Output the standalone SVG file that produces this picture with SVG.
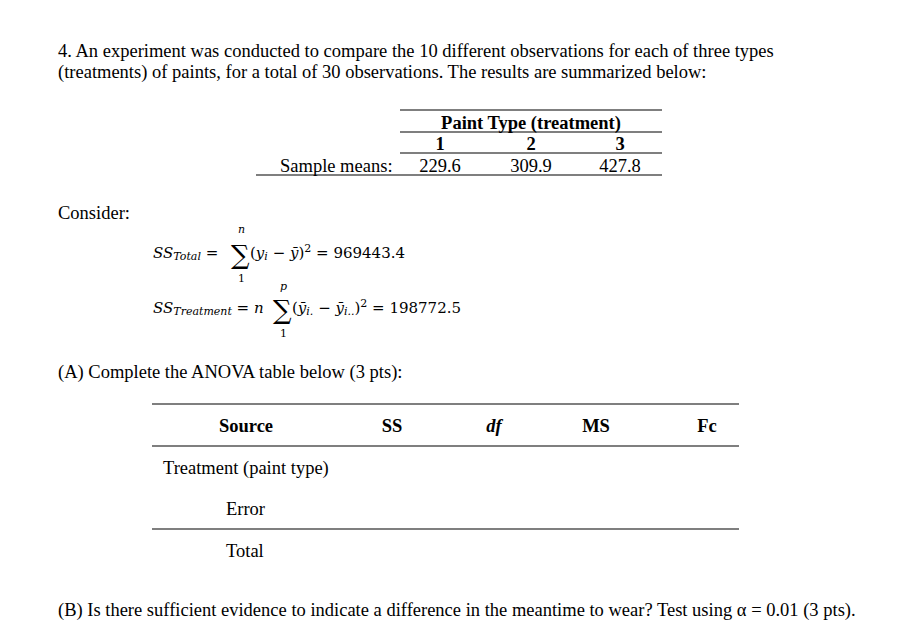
<svg xmlns="http://www.w3.org/2000/svg" width="902" height="627" viewBox="0 0 902 627">
<style>
text{font-family:"Liberation Serif",serif;font-size:18.5px;fill:#000}
.b{font-weight:bold}
.m{font-family:"DejaVu Serif","Liberation Serif",serif;font-size:15px}
.i{font-style:italic}
.s{font-size:11px}
.sig{font-size:26px}
line{stroke:#000;stroke-width:1.2}
</style>
<rect width="902" height="627" fill="#fff"/>
<text x="58" y="57">4.  An experiment was conducted to compare the 10 different observations for each of three types</text>
<text x="58" y="78">(treatments) of paints, for a total of 30 observations. The results are summarized below:</text>
<g id="means-table">
<line x1="400" y1="110" x2="662" y2="110"/>
<text x="531" y="129" class="b" text-anchor="middle">Paint Type (treatment)</text>
<line x1="400" y1="132" x2="662" y2="132"/>
<text x="440" y="150" class="b" text-anchor="middle">1</text>
<text x="531" y="150" class="b" text-anchor="middle">2</text>
<text x="620" y="150" class="b" text-anchor="middle">3</text>
<line x1="400" y1="153" x2="662" y2="153"/>
<text x="280" y="172">Sample means:</text>
<text x="440" y="172" text-anchor="middle">229.6</text>
<text x="531" y="172" text-anchor="middle">309.9</text>
<text x="620" y="172" text-anchor="middle">427.8</text>
<line x1="256" y1="175" x2="662" y2="175"/>
</g>
<text x="58" y="219">Consider:</text>
<g id="formulas">
<text x="153" y="258" class="m i">SS<tspan class="s" dy="2">Total</tspan><tspan dy="-2" font-style="normal"> =</tspan></text>
<text x="238" y="233" class="m i s">n</text>
<text x="231" y="264" class="m sig">∑</text>
<text x="238" y="282" class="m s">1</text>
<text x="250" y="258" class="m">(<tspan class="i">y</tspan><tspan class="s i" dy="2">i</tspan><tspan dy="-2"> − </tspan><tspan class="i">ȳ</tspan>)<tspan class="s" dy="-6">2</tspan><tspan dy="6"> = 969443.4</tspan></text>
<text x="153" y="313" class="m i">SS<tspan class="s" dy="2">Treatment</tspan><tspan dy="-2" font-style="normal"> = </tspan>n</text>
<text x="280" y="290" class="m i s">p</text>
<text x="273" y="319" class="m sig">∑</text>
<text x="280" y="337" class="m s">1</text>
<text x="292" y="313" class="m">(<tspan class="i">ȳ</tspan><tspan class="s i" dy="2">i.</tspan><tspan dy="-2"> − </tspan><tspan class="i">ȳ</tspan><tspan class="s i" dy="2">i..</tspan><tspan dy="-2">)</tspan><tspan class="s" dy="-6">2</tspan><tspan dy="6"> = 198772.5</tspan></text>
</g>
<text x="58" y="378">(A) Complete the ANOVA table below (3 pts):</text>
<g id="anova-table">
<line x1="152" y1="404" x2="739" y2="404"/>
<text x="246" y="432" class="b" text-anchor="middle">Source</text>
<text x="392" y="432" class="b" text-anchor="middle">SS</text>
<text x="494" y="432" class="b i" text-anchor="middle">df</text>
<text x="596" y="432" class="b" text-anchor="middle">MS</text>
<text x="707" y="432" class="b" text-anchor="middle">Fc</text>
<line x1="152" y1="446" x2="739" y2="446"/>
<text x="163" y="474">Treatment (paint type)</text>
<text x="226" y="515">Error</text>
<line x1="152" y1="529" x2="739" y2="529"/>
<text x="226" y="557">Total</text>
</g>
<text x="58" y="616">(B) Is there sufficient evidence to indicate a difference in the meantime to wear? Test using α = 0.01 (3 pts).</text>
</svg>
